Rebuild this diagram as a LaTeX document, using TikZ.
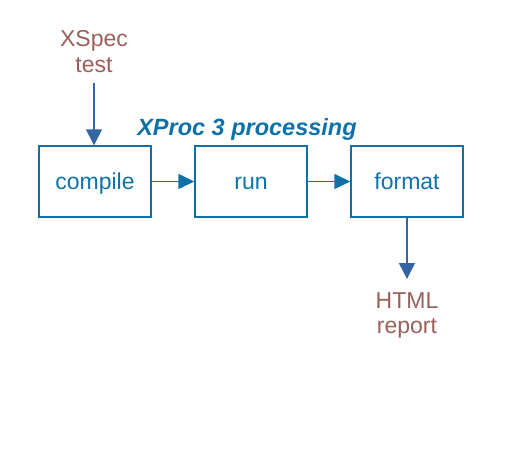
\documentclass[tikz,border=0pt]{standalone}
\usepackage{fontspec}
\setmainfont{Liberation Sans}
\usetikzlibrary{positioning,arrows.meta}

\definecolor{procblue}{HTML}{0E72A8}
\definecolor{flowblue}{HTML}{3465A4}
\definecolor{docbrown}{HTML}{995F5A}

\tikzset{
  stepbox/.style={draw=procblue, line width=1.4pt, minimum width=112pt,
    minimum height=71pt, text=procblue, text height=20pt, text depth=5pt,
    font=\fontsize{23}{26}\selectfont},
  doclabel/.style={text=docbrown, align=center, font=\fontsize{23}{25.5}\selectfont},
  pipe/.style={draw=procblue, line width=1.4pt, -{Triangle[length=16pt,width=15pt]}},
  feed/.style={draw=flowblue, line width=1.4pt, -{Triangle[length=16pt,width=16pt]}}
}

\begin{document}
\begin{tikzpicture}[x=1pt,y=-1pt]

\useasboundingbox (0,0) rectangle (517,450);

% ============================
% PIPELINE STEPS
% ============================

\node[stepbox] (compile) at (95,181.5) {compile};
\node[stepbox] (run) at (251,181.5) {run};
\node[stepbox] (format) at (407,181.5) {format};

\node[text=procblue, font=\fontsize{23.5}{26}\selectfont\bfseries\itshape] (title) at (247,129.5) {XProc 3 processing};

\draw[pipe] (compile) -- (run);
\draw[pipe] (run) -- (format);

% ============================
% INPUT AND OUTPUT
% ============================

\node[doclabel] (xspec) at (94,51.5) {XSpec\\test};
\coordinate (xspecout) at (94,83);
\draw[feed] (xspecout) -- (xspecout |- compile.north);

\coordinate (reportin) at (407,279);
\draw[feed] (format) -- (reportin);
\node[doclabel] (report) at (407,315.5) {HTML\\report};

\end{tikzpicture}
\end{document}
